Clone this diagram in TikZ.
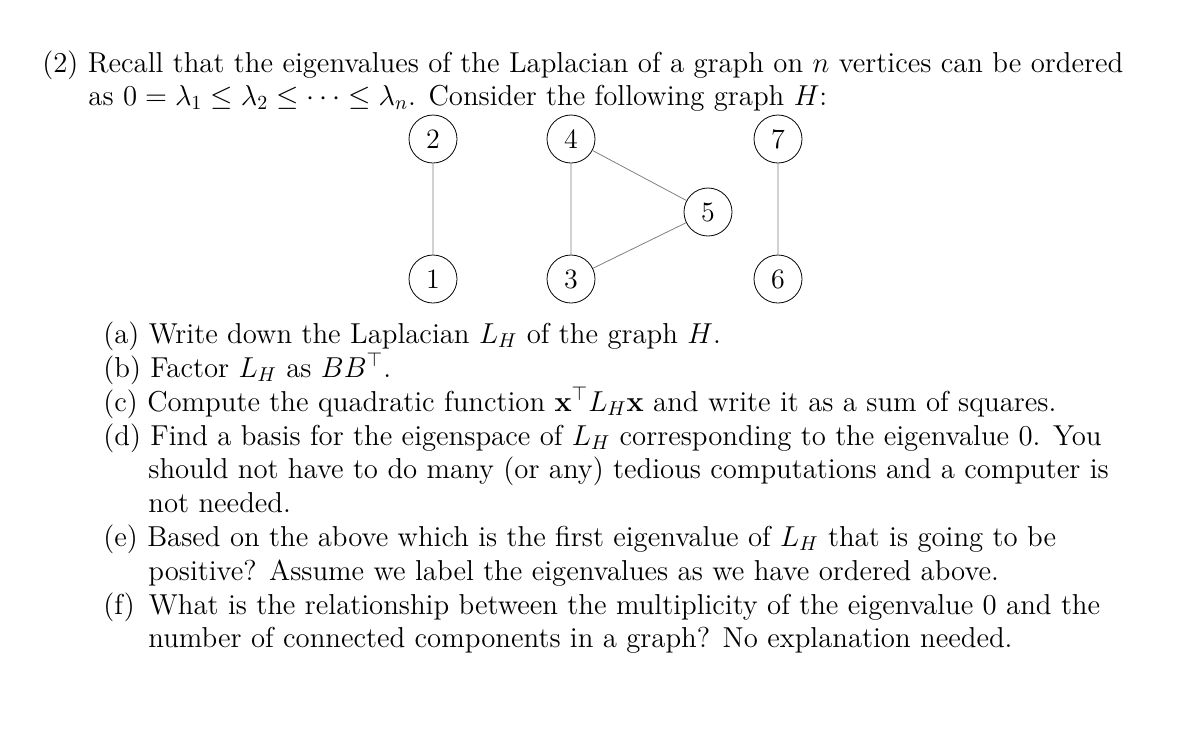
\documentclass[tikz,border=0pt]{standalone}
\usepackage{amsmath,amssymb}
\begin{document}
\begin{tikzpicture}[x=0.5pt,y=-0.5pt,
  vtx/.style={draw,circle,minimum size=24pt,inner sep=0pt,font=\fontsize{14}{17}\selectfont},
  ln/.style={anchor=base west,inner sep=0pt,font=\fontsize{14.4}{17}\selectfont},
  edge/.style={draw=gray}]
\useasboundingbox (0,0) rectangle (1204,736);
\node[ln] (l1) at (42,72) {(2) Recall that the eigenvalues of the Laplacian of a graph on $n$ vertices can be ordered};
\node[ln] (l2) at (88,105) {as $0=\lambda_1\le\lambda_2\le\cdots\le\lambda_n$. Consider the following graph $H$:};
\node[vtx] (v2) at (433,139) {2};
\node[vtx] (v4) at (571,139) {4};
\node[vtx] (v7) at (778,139) {7};
\node[vtx] (v5) at (708,212) {5};
\node[vtx] (v1) at (433,279) {1};
\node[vtx] (v3) at (571,279) {3};
\node[vtx] (v6) at (778,279) {6};
\draw[edge] (v2)--(v1) (v4)--(v3) (v4)--(v5) (v3)--(v5) (v7)--(v6);
\node[ln] (a) at (103,343) {(a) Write down the Laplacian $L_H$ of the graph $H$.};
\node[ln] (b) at (103,377) {(b) Factor $L_H$ as $BB^\top$.};
\node[ln] (c) at (103,411) {(c) Compute the quadratic function $\mathbf{x}^\top L_H\mathbf{x}$ and write it as a sum of squares.};
\node[ln] (d) at (103,445) {(d) Find a basis for the eigenspace of $L_H$ corresponding to the eigenvalue 0. You};
\node[ln] (d2) at (148,478) {should not have to do many (or any) tedious computations and a computer is};
\node[ln] (d3) at (148,512) {not needed.};
\node[ln] (e) at (103,546) {(e) Based on the above which is the first eigenvalue of $L_H$ that is going to be};
\node[ln] (e2) at (148,580) {positive? Assume we label the eigenvalues as we have ordered above.};
\node[ln] (f) at (103,614) {(f) \,What is the relationship between the multiplicity of the eigenvalue 0 and the};
\node[ln] (f2) at (148,647) {number of connected components in a graph? No explanation needed.};
\end{tikzpicture}
\end{document}
